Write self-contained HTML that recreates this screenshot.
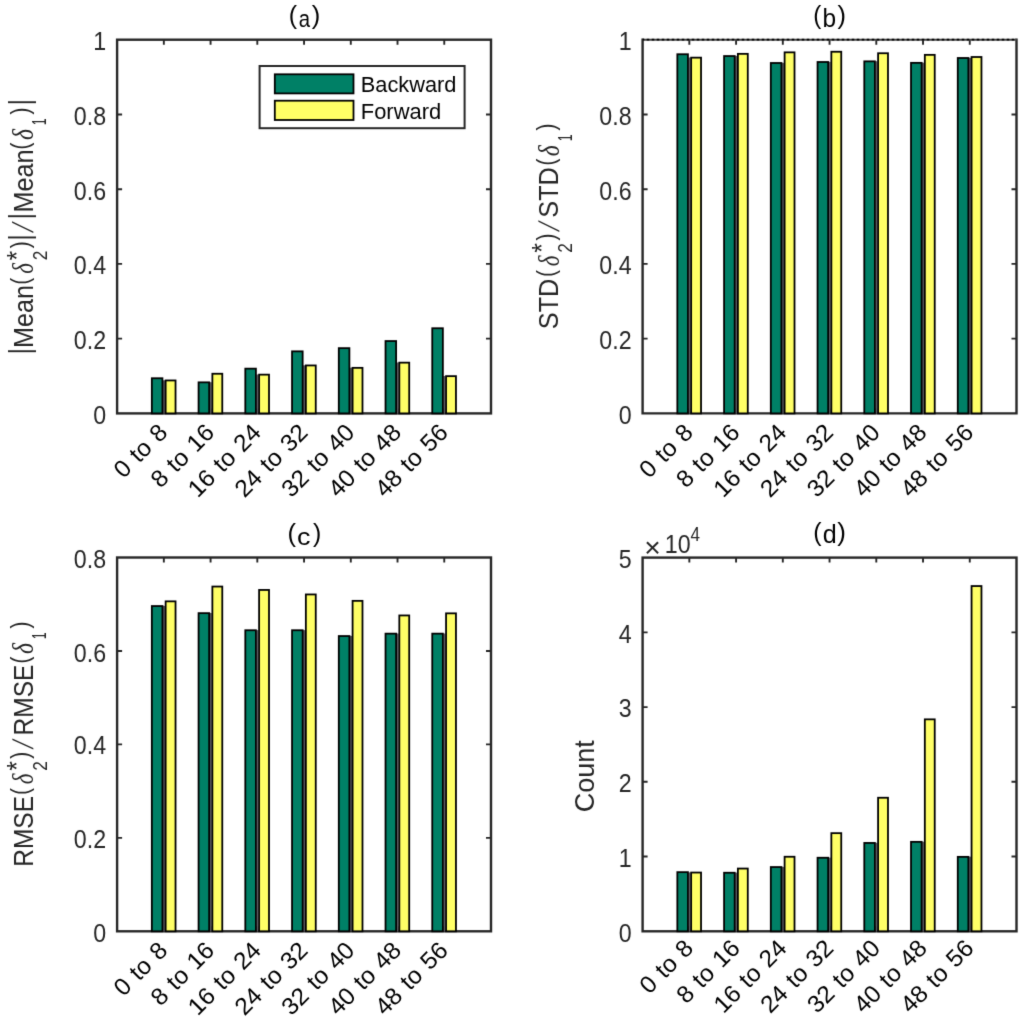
<!DOCTYPE html>
<html lang="en"><head><meta charset="utf-8"><title>Backward / Forward comparison</title>
<style>
html,body{margin:0;padding:0;background:#fff;}
body{width:1024px;height:1023px;overflow:hidden;}
svg{display:block;}
text{font-family:"Liberation Sans",sans-serif;font-kerning:none;}
.tk{font-size:26.5px;fill:#262626;}
.xt{font-size:24px;fill:#000;word-spacing:1.5px;}
.g{fill:#262626;}
.k{fill:#000;}
.it{font-style:italic;font-family:"Liberation Serif",serif;}
</style></head><body>
<svg width="1024" height="1023" viewBox="0 0 1024 1023">
<rect x="0" y="0" width="1024" height="1023" fill="#fff"/>
<defs><filter id="soft" x="0" y="0" width="1024" height="1023" filterUnits="userSpaceOnUse" color-interpolation-filters="sRGB"><feConvolveMatrix order="3" kernelMatrix="0.01832 0.13534 0.01832 0.13534 1.00000 0.13534 0.01832 0.13534 0.01832" divisor="1.61460" edgeMode="duplicate" preserveAlpha="true"/></filter></defs>
<g filter="url(#soft)">
<rect x="0" y="0" width="1024" height="1023" fill="#fff"/>
<g id="panel-a">
<path d="M163.84 413.4V408.4M163.84 39.7V44.7M210.57 413.4V408.4M210.57 39.7V44.7M257.31 413.4V408.4M257.31 39.7V44.7M304.05 413.4V408.4M304.05 39.7V44.7M350.79 413.4V408.4M350.79 39.7V44.7M397.52 413.4V408.4M397.52 39.7V44.7M444.26 413.4V408.4M444.26 39.7V44.7M117.1 338.66H122.1M491 338.66H486M117.1 263.92H122.1M491 263.92H486M117.1 189.18H122.1M491 189.18H486M117.1 114.44H122.1M491 114.44H486" stroke="#262626" stroke-width="1.9" fill="none"/>
<rect x="117.1" y="39.7" width="373.9" height="373.7" fill="none" stroke="#262626" stroke-width="2.4"/>
<rect x="162.84" y="380.3" width="2.2" height="33.1" fill="#5c5c62"/>
<rect x="151.84" y="378.25" width="10.6" height="35.15" fill="rgb(0,128,102)" stroke="#000" stroke-width="1.8"/>
<rect x="165.64" y="380.45" width="9.9" height="32.95" fill="rgb(255,255,102)" stroke="#000" stroke-width="1.8"/>
<rect x="209.57" y="382.2" width="2.2" height="31.2" fill="#5c5c62"/>
<rect x="198.57" y="382.35" width="10.6" height="31.05" fill="rgb(0,128,102)" stroke="#000" stroke-width="1.8"/>
<rect x="212.38" y="373.75" width="9.9" height="39.65" fill="rgb(255,255,102)" stroke="#000" stroke-width="1.8"/>
<rect x="256.31" y="374.5" width="2.2" height="38.9" fill="#5c5c62"/>
<rect x="245.31" y="368.65" width="10.6" height="44.75" fill="rgb(0,128,102)" stroke="#000" stroke-width="1.8"/>
<rect x="259.11" y="374.65" width="9.9" height="38.75" fill="rgb(255,255,102)" stroke="#000" stroke-width="1.8"/>
<rect x="303.05" y="365.3" width="2.2" height="48.1" fill="#5c5c62"/>
<rect x="292.05" y="351.35" width="10.6" height="62.05" fill="rgb(0,128,102)" stroke="#000" stroke-width="1.8"/>
<rect x="305.85" y="365.45" width="9.9" height="47.95" fill="rgb(255,255,102)" stroke="#000" stroke-width="1.8"/>
<rect x="349.79" y="367.7" width="2.2" height="45.7" fill="#5c5c62"/>
<rect x="338.79" y="348.15" width="10.6" height="65.25" fill="rgb(0,128,102)" stroke="#000" stroke-width="1.8"/>
<rect x="352.59" y="367.85" width="9.9" height="45.55" fill="rgb(255,255,102)" stroke="#000" stroke-width="1.8"/>
<rect x="396.52" y="362.5" width="2.2" height="50.9" fill="#5c5c62"/>
<rect x="385.52" y="341.05" width="10.6" height="72.35" fill="rgb(0,128,102)" stroke="#000" stroke-width="1.8"/>
<rect x="399.32" y="362.65" width="9.9" height="50.75" fill="rgb(255,255,102)" stroke="#000" stroke-width="1.8"/>
<rect x="443.26" y="376" width="2.2" height="37.4" fill="#5c5c62"/>
<rect x="432.26" y="328.25" width="10.6" height="85.15" fill="rgb(0,128,102)" stroke="#000" stroke-width="1.8"/>
<rect x="446.06" y="376.15" width="9.9" height="37.25" fill="rgb(255,255,102)" stroke="#000" stroke-width="1.8"/>
<text class="tk" transform="translate(106.1 423.9) scale(0.876 1)" text-anchor="end">0</text>
<text class="tk" transform="translate(106.1 348.91) scale(0.876 1)" text-anchor="end">0.2</text>
<text class="tk" transform="translate(106.1 273.77) scale(0.876 1)" text-anchor="end">0.4</text>
<text class="tk" transform="translate(106.1 200.03) scale(0.876 1)" text-anchor="end">0.6</text>
<text class="tk" transform="translate(106.1 124.89) scale(0.876 1)" text-anchor="end">0.8</text>
<text class="tk" transform="translate(106.1 49.8) scale(0.876 1)" text-anchor="end">1</text>
<text class="xt" transform="translate(168.94 433.9) rotate(-45) scale(1.02 1)" text-anchor="end">0 to 8</text>
<text class="xt" transform="translate(215.67 433.9) rotate(-45) scale(1.02 1)" text-anchor="end">8 to 16</text>
<text class="xt" transform="translate(262.41 433.9) rotate(-45) scale(1.02 1)" text-anchor="end">16 to 24</text>
<text class="xt" transform="translate(309.15 433.9) rotate(-45) scale(1.02 1)" text-anchor="end">24 to 32</text>
<text class="xt" transform="translate(355.89 433.9) rotate(-45) scale(1.02 1)" text-anchor="end">32 to 40</text>
<text class="xt" transform="translate(402.62 433.9) rotate(-45) scale(1.02 1)" text-anchor="end">40 to 48</text>
<text class="xt" transform="translate(449.36 433.9) rotate(-45) scale(1.02 1)" text-anchor="end">48 to 56</text>
</g>
<g id="panel-b">
<path d="M689.34 413.4V408.4M689.34 39.7V44.7M736.08 413.4V408.4M736.08 39.7V44.7M782.81 413.4V408.4M782.81 39.7V44.7M829.55 413.4V408.4M829.55 39.7V44.7M876.29 413.4V408.4M876.29 39.7V44.7M923.02 413.4V408.4M923.02 39.7V44.7M969.76 413.4V408.4M969.76 39.7V44.7M642.6 338.66H647.6M1016.5 338.66H1011.5M642.6 263.92H647.6M1016.5 263.92H1011.5M642.6 189.18H647.6M1016.5 189.18H1011.5M642.6 114.44H647.6M1016.5 114.44H1011.5" stroke="#262626" stroke-width="1.9" fill="none"/>
<path d="M642.6 39.7V413.4H1016.5V39.7" fill="none" stroke="#262626" stroke-width="2.4" stroke-linecap="square"/>
<path d="M642.6 39.7H1016.5" fill="none" stroke="#484848" stroke-width="1.9"/>
<path d="M642.6 39.6H1016.5" stroke="#000" stroke-width="1.7" stroke-dasharray="2.6 2.4" stroke-dashoffset="0.9" fill="none"/>
<rect x="688.34" y="57.5" width="2.2" height="355.9" fill="#5c5c62"/>
<rect x="677.34" y="54.25" width="10.6" height="359.15" fill="rgb(0,128,102)" stroke="#000" stroke-width="1.8"/>
<rect x="691.14" y="57.65" width="9.9" height="355.75" fill="rgb(255,255,102)" stroke="#000" stroke-width="1.8"/>
<rect x="735.08" y="55.9" width="2.2" height="357.5" fill="#5c5c62"/>
<rect x="724.08" y="56.05" width="10.6" height="357.35" fill="rgb(0,128,102)" stroke="#000" stroke-width="1.8"/>
<rect x="737.88" y="53.85" width="9.9" height="359.55" fill="rgb(255,255,102)" stroke="#000" stroke-width="1.8"/>
<rect x="781.81" y="62.85" width="2.2" height="350.55" fill="#5c5c62"/>
<rect x="770.81" y="63" width="10.6" height="350.4" fill="rgb(0,128,102)" stroke="#000" stroke-width="1.8"/>
<rect x="784.61" y="52.35" width="9.9" height="361.05" fill="rgb(255,255,102)" stroke="#000" stroke-width="1.8"/>
<rect x="828.55" y="61.85" width="2.2" height="351.55" fill="#5c5c62"/>
<rect x="817.55" y="62" width="10.6" height="351.4" fill="rgb(0,128,102)" stroke="#000" stroke-width="1.8"/>
<rect x="831.35" y="51.75" width="9.9" height="361.65" fill="rgb(255,255,102)" stroke="#000" stroke-width="1.8"/>
<rect x="875.29" y="61.2" width="2.2" height="352.2" fill="#5c5c62"/>
<rect x="864.29" y="61.35" width="10.6" height="352.05" fill="rgb(0,128,102)" stroke="#000" stroke-width="1.8"/>
<rect x="878.09" y="53.25" width="9.9" height="360.15" fill="rgb(255,255,102)" stroke="#000" stroke-width="1.8"/>
<rect x="922.02" y="62.7" width="2.2" height="350.7" fill="#5c5c62"/>
<rect x="911.02" y="62.85" width="10.6" height="350.55" fill="rgb(0,128,102)" stroke="#000" stroke-width="1.8"/>
<rect x="924.82" y="54.85" width="9.9" height="358.55" fill="rgb(255,255,102)" stroke="#000" stroke-width="1.8"/>
<rect x="968.76" y="57.85" width="2.2" height="355.55" fill="#5c5c62"/>
<rect x="957.76" y="58" width="10.6" height="355.4" fill="rgb(0,128,102)" stroke="#000" stroke-width="1.8"/>
<rect x="971.56" y="57" width="9.9" height="356.4" fill="rgb(255,255,102)" stroke="#000" stroke-width="1.8"/>
<text class="tk" transform="translate(631.6 423.9) scale(0.876 1)" text-anchor="end">0</text>
<text class="tk" transform="translate(631.6 348.91) scale(0.876 1)" text-anchor="end">0.2</text>
<text class="tk" transform="translate(631.6 273.77) scale(0.876 1)" text-anchor="end">0.4</text>
<text class="tk" transform="translate(631.6 200.03) scale(0.876 1)" text-anchor="end">0.6</text>
<text class="tk" transform="translate(631.6 124.89) scale(0.876 1)" text-anchor="end">0.8</text>
<text class="tk" transform="translate(631.6 49.8) scale(0.876 1)" text-anchor="end">1</text>
<text class="xt" transform="translate(694.44 433.9) rotate(-45) scale(1.02 1)" text-anchor="end">0 to 8</text>
<text class="xt" transform="translate(741.18 433.9) rotate(-45) scale(1.02 1)" text-anchor="end">8 to 16</text>
<text class="xt" transform="translate(787.91 433.9) rotate(-45) scale(1.02 1)" text-anchor="end">16 to 24</text>
<text class="xt" transform="translate(834.65 433.9) rotate(-45) scale(1.02 1)" text-anchor="end">24 to 32</text>
<text class="xt" transform="translate(881.39 433.9) rotate(-45) scale(1.02 1)" text-anchor="end">32 to 40</text>
<text class="xt" transform="translate(928.12 433.9) rotate(-45) scale(1.02 1)" text-anchor="end">40 to 48</text>
<text class="xt" transform="translate(974.86 433.9) rotate(-45) scale(1.02 1)" text-anchor="end">48 to 56</text>
</g>
<g id="panel-c">
<path d="M163.84 931.3V926.3M163.84 557.5V562.5M210.57 931.3V926.3M210.57 557.5V562.5M257.31 931.3V926.3M257.31 557.5V562.5M304.05 931.3V926.3M304.05 557.5V562.5M350.79 931.3V926.3M350.79 557.5V562.5M397.52 931.3V926.3M397.52 557.5V562.5M444.26 931.3V926.3M444.26 557.5V562.5M117.1 837.85H122.1M491 837.85H486M117.1 744.4H122.1M491 744.4H486M117.1 650.95H122.1M491 650.95H486" stroke="#262626" stroke-width="1.9" fill="none"/>
<rect x="117.1" y="557.5" width="373.9" height="373.8" fill="none" stroke="#262626" stroke-width="2.4"/>
<rect x="162.84" y="605.9" width="2.2" height="325.4" fill="#5c5c62"/>
<rect x="151.84" y="606.05" width="10.6" height="325.25" fill="rgb(0,128,102)" stroke="#000" stroke-width="1.8"/>
<rect x="165.64" y="601.35" width="9.9" height="329.95" fill="rgb(255,255,102)" stroke="#000" stroke-width="1.8"/>
<rect x="209.57" y="613" width="2.2" height="318.3" fill="#5c5c62"/>
<rect x="198.57" y="613.15" width="10.6" height="318.15" fill="rgb(0,128,102)" stroke="#000" stroke-width="1.8"/>
<rect x="212.38" y="586.55" width="9.9" height="344.75" fill="rgb(255,255,102)" stroke="#000" stroke-width="1.8"/>
<rect x="256.31" y="630.1" width="2.2" height="301.2" fill="#5c5c62"/>
<rect x="245.31" y="630.25" width="10.6" height="301.05" fill="rgb(0,128,102)" stroke="#000" stroke-width="1.8"/>
<rect x="259.11" y="589.95" width="9.9" height="341.35" fill="rgb(255,255,102)" stroke="#000" stroke-width="1.8"/>
<rect x="303.05" y="630.1" width="2.2" height="301.2" fill="#5c5c62"/>
<rect x="292.05" y="630.25" width="10.6" height="301.05" fill="rgb(0,128,102)" stroke="#000" stroke-width="1.8"/>
<rect x="305.85" y="594.45" width="9.9" height="336.85" fill="rgb(255,255,102)" stroke="#000" stroke-width="1.8"/>
<rect x="349.79" y="635.9" width="2.2" height="295.4" fill="#5c5c62"/>
<rect x="338.79" y="636.05" width="10.6" height="295.25" fill="rgb(0,128,102)" stroke="#000" stroke-width="1.8"/>
<rect x="352.59" y="600.85" width="9.9" height="330.45" fill="rgb(255,255,102)" stroke="#000" stroke-width="1.8"/>
<rect x="396.52" y="633.5" width="2.2" height="297.8" fill="#5c5c62"/>
<rect x="385.52" y="633.65" width="10.6" height="297.65" fill="rgb(0,128,102)" stroke="#000" stroke-width="1.8"/>
<rect x="399.32" y="615.45" width="9.9" height="315.85" fill="rgb(255,255,102)" stroke="#000" stroke-width="1.8"/>
<rect x="443.26" y="633.5" width="2.2" height="297.8" fill="#5c5c62"/>
<rect x="432.26" y="633.65" width="10.6" height="297.65" fill="rgb(0,128,102)" stroke="#000" stroke-width="1.8"/>
<rect x="446.06" y="613.35" width="9.9" height="317.95" fill="rgb(255,255,102)" stroke="#000" stroke-width="1.8"/>
<text class="tk" transform="translate(106.1 941.65) scale(0.876 1)" text-anchor="end">0</text>
<text class="tk" transform="translate(106.1 848.2) scale(0.876 1)" text-anchor="end">0.2</text>
<text class="tk" transform="translate(106.1 754.15) scale(0.876 1)" text-anchor="end">0.4</text>
<text class="tk" transform="translate(106.1 661.9) scale(0.876 1)" text-anchor="end">0.6</text>
<text class="tk" transform="translate(106.1 567.9) scale(0.876 1)" text-anchor="end">0.8</text>
<text class="xt" transform="translate(168.94 951.8) rotate(-45) scale(1.02 1)" text-anchor="end">0 to 8</text>
<text class="xt" transform="translate(215.67 951.8) rotate(-45) scale(1.02 1)" text-anchor="end">8 to 16</text>
<text class="xt" transform="translate(262.41 951.8) rotate(-45) scale(1.02 1)" text-anchor="end">16 to 24</text>
<text class="xt" transform="translate(309.15 951.8) rotate(-45) scale(1.02 1)" text-anchor="end">24 to 32</text>
<text class="xt" transform="translate(355.89 951.8) rotate(-45) scale(1.02 1)" text-anchor="end">32 to 40</text>
<text class="xt" transform="translate(402.62 951.8) rotate(-45) scale(1.02 1)" text-anchor="end">40 to 48</text>
<text class="xt" transform="translate(449.36 951.8) rotate(-45) scale(1.02 1)" text-anchor="end">48 to 56</text>
</g>
<g id="panel-d">
<path d="M689.34 931.3V926.3M689.34 557.6V562.6M736.08 931.3V926.3M736.08 557.6V562.6M782.81 931.3V926.3M782.81 557.6V562.6M829.55 931.3V926.3M829.55 557.6V562.6M876.29 931.3V926.3M876.29 557.6V562.6M923.02 931.3V926.3M923.02 557.6V562.6M969.76 931.3V926.3M969.76 557.6V562.6M642.6 856.56H647.6M1016.5 856.56H1011.5M642.6 781.82H647.6M1016.5 781.82H1011.5M642.6 707.08H647.6M1016.5 707.08H1011.5M642.6 632.34H647.6M1016.5 632.34H1011.5" stroke="#262626" stroke-width="1.9" fill="none"/>
<rect x="642.6" y="557.6" width="373.9" height="373.7" fill="none" stroke="#262626" stroke-width="2.4"/>
<rect x="688.34" y="872.4" width="2.2" height="58.9" fill="#5c5c62"/>
<rect x="677.34" y="872.15" width="10.6" height="59.15" fill="rgb(0,128,102)" stroke="#000" stroke-width="1.8"/>
<rect x="691.14" y="872.55" width="9.9" height="58.75" fill="rgb(255,255,102)" stroke="#000" stroke-width="1.8"/>
<rect x="735.08" y="872.6" width="2.2" height="58.7" fill="#5c5c62"/>
<rect x="724.08" y="872.75" width="10.6" height="58.55" fill="rgb(0,128,102)" stroke="#000" stroke-width="1.8"/>
<rect x="737.88" y="868.55" width="9.9" height="62.75" fill="rgb(255,255,102)" stroke="#000" stroke-width="1.8"/>
<rect x="781.81" y="866.9" width="2.2" height="64.4" fill="#5c5c62"/>
<rect x="770.81" y="867.05" width="10.6" height="64.25" fill="rgb(0,128,102)" stroke="#000" stroke-width="1.8"/>
<rect x="784.61" y="856.75" width="9.9" height="74.55" fill="rgb(255,255,102)" stroke="#000" stroke-width="1.8"/>
<rect x="828.55" y="857.6" width="2.2" height="73.7" fill="#5c5c62"/>
<rect x="817.55" y="857.75" width="10.6" height="73.55" fill="rgb(0,128,102)" stroke="#000" stroke-width="1.8"/>
<rect x="831.35" y="833.15" width="9.9" height="98.15" fill="rgb(255,255,102)" stroke="#000" stroke-width="1.8"/>
<rect x="875.29" y="842.8" width="2.2" height="88.5" fill="#5c5c62"/>
<rect x="864.29" y="842.95" width="10.6" height="88.35" fill="rgb(0,128,102)" stroke="#000" stroke-width="1.8"/>
<rect x="878.09" y="797.75" width="9.9" height="133.55" fill="rgb(255,255,102)" stroke="#000" stroke-width="1.8"/>
<rect x="922.02" y="841.7" width="2.2" height="89.6" fill="#5c5c62"/>
<rect x="911.02" y="841.85" width="10.6" height="89.45" fill="rgb(0,128,102)" stroke="#000" stroke-width="1.8"/>
<rect x="924.82" y="719.35" width="9.9" height="211.95" fill="rgb(255,255,102)" stroke="#000" stroke-width="1.8"/>
<rect x="968.76" y="856.7" width="2.2" height="74.6" fill="#5c5c62"/>
<rect x="957.76" y="856.85" width="10.6" height="74.45" fill="rgb(0,128,102)" stroke="#000" stroke-width="1.8"/>
<rect x="971.56" y="586.05" width="9.9" height="345.25" fill="rgb(255,255,102)" stroke="#000" stroke-width="1.8"/>
<text class="tk" transform="translate(631.6 941.65) scale(0.876 1)" text-anchor="end">0</text>
<text class="tk" transform="translate(631.6 866.91) scale(0.876 1)" text-anchor="end">1</text>
<text class="tk" transform="translate(631.6 792.17) scale(0.876 1)" text-anchor="end">2</text>
<text class="tk" transform="translate(631.6 717.43) scale(0.876 1)" text-anchor="end">3</text>
<text class="tk" transform="translate(631.6 642.69) scale(0.876 1)" text-anchor="end">4</text>
<text class="tk" transform="translate(631.6 567.6) scale(0.876 1)" text-anchor="end">5</text>
<text class="xt" transform="translate(694.64 949.6) rotate(-45) scale(1.02 1)" text-anchor="end">0 to 8</text>
<text class="xt" transform="translate(741.38 949.6) rotate(-45) scale(1.02 1)" text-anchor="end">8 to 16</text>
<text class="xt" transform="translate(788.11 949.6) rotate(-45) scale(1.02 1)" text-anchor="end">16 to 24</text>
<text class="xt" transform="translate(834.85 949.6) rotate(-45) scale(1.02 1)" text-anchor="end">24 to 32</text>
<text class="xt" transform="translate(881.59 949.6) rotate(-45) scale(1.02 1)" text-anchor="end">32 to 40</text>
<text class="xt" transform="translate(928.32 949.6) rotate(-45) scale(1.02 1)" text-anchor="end">40 to 48</text>
<text class="xt" transform="translate(975.06 949.6) rotate(-45) scale(1.02 1)" text-anchor="end">48 to 56</text>
</g>
<g id="title-a"><text class="k" font-size="27" transform="translate(288.86 23.74) scale(0.922 0.9581)">(</text><text class="k" font-size="27" transform="translate(298.64 26.96) scale(0.7535 0.9127)">a</text><text class="k" font-size="27" transform="translate(311.65 23.74) scale(0.9499 0.9581)">)</text></g>
<g id="title-b"><text class="k" font-size="27" transform="translate(813.2 23.74) scale(0.894 0.9581)">(</text><text class="k" font-size="27" transform="translate(822.62 26.65) scale(0.9059 0.9633)">b</text><text class="k" font-size="27" transform="translate(837.4 23.74) scale(0.9429 0.9581)">)</text></g>
<g id="title-c"><text class="k" font-size="27" transform="translate(287.47 541.74) scale(0.9429 0.9581)">(</text><text class="k" font-size="27" transform="translate(297.06 544.96) scale(0.9965 0.9127)">c</text><text class="k" font-size="27" transform="translate(313.05 541.74) scale(0.922 0.9581)">)</text></g>
<g id="title-d"><text class="k" font-size="27" transform="translate(813.16 540.52) scale(0.922 0.9442)">(</text><text class="k" font-size="27" transform="translate(822.84 543.19) scale(0.9306 0.9708)">d</text><text class="k" font-size="27" transform="translate(837.25 540.52) scale(0.9639 0.9442)">)</text></g>
<g id="ylabel-b"><text class="g" font-size="28" transform="rotate(-90) translate(-329.15 558.23) scale(0.9009 0.9786)">STD</text><text class="g" font-size="28" transform="rotate(-90) translate(-276.74 554.88) scale(0.7139 0.9009)">(</text><text class="g it" font-size="28" transform="rotate(-90) translate(-266.17 558.82) scale(0.8198 1.0384)">δ</text><text class="g" font-size="21" transform="rotate(-90) translate(-252.8 551.31) scale(1.1724 1.3225)">*</text><text class="g" font-size="21" transform="rotate(-90) translate(-252.67 572.3) scale(0.8258 0.9821)">2</text><text class="g" font-size="28" transform="rotate(-90) translate(-240.62 554.88) scale(0.7543 0.9009)">)</text><text class="g" font-size="28" transform="rotate(-90) translate(-232.01 558.52) skewX(-17.512) scale(0.6772 1.0164)">/</text><text class="g" font-size="28" transform="rotate(-90) translate(-217.65 558.23) scale(0.9009 0.9786)">STD</text><text class="g" font-size="28" transform="rotate(-90) translate(-165.56 554.88) scale(0.7274 0.9009)">(</text><text class="g it" font-size="28" transform="rotate(-90) translate(-156.19 558.82) scale(0.8436 1.0384)">δ</text><text class="g" font-size="21" transform="rotate(-90) translate(-141.24 571.95) scale(0.5854 0.9725)">1</text><text class="g" font-size="28" transform="rotate(-90) translate(-130.62 554.88) scale(0.7543 0.9009)">)</text></g>
<g id="ylabel-c"><text class="g" font-size="28" transform="rotate(-90) translate(-866.81 32.53) scale(0.8767 0.9786)">RMSE</text><text class="g" font-size="28" transform="rotate(-90) translate(-794.79 29.18) scale(0.7139 0.9009)">(</text><text class="g it" font-size="28" transform="rotate(-90) translate(-784.22 33.12) scale(0.8198 1.0384)">δ</text><text class="g" font-size="21" transform="rotate(-90) translate(-770.85 25.61) scale(1.1724 1.3225)">*</text><text class="g" font-size="21" transform="rotate(-90) translate(-770.72 46.6) scale(0.8258 0.9821)">2</text><text class="g" font-size="28" transform="rotate(-90) translate(-758.67 29.18) scale(0.7543 0.9009)">)</text><text class="g" font-size="28" transform="rotate(-90) translate(-749.52 32.82) skewX(-15.75) scale(0.6772 1.0164)">/</text><text class="g" font-size="28" transform="rotate(-90) translate(-735.41 32.53) scale(0.876 0.9786)">RMSE</text><text class="g" font-size="28" transform="rotate(-90) translate(-663.46 29.18) scale(0.7274 0.9009)">(</text><text class="g it" font-size="28" transform="rotate(-90) translate(-654.09 33.12) scale(0.8436 1.0384)">δ</text><text class="g" font-size="21" transform="rotate(-90) translate(-639.14 46.25) scale(0.5854 0.9725)">1</text><text class="g" font-size="28" transform="rotate(-90) translate(-628.52 29.18) scale(0.7543 0.9009)">)</text></g>
<g id="ylabel-a"><text class="g" font-size="28" transform="rotate(-90) translate(-354.29 30.22) scale(0.8372 1.0754)">|</text><text class="g" font-size="28" transform="rotate(-90) translate(-348.01 32.53) scale(0.8987 0.993)">Mean</text><text class="g" font-size="28" transform="rotate(-90) translate(-284.44 29.18) scale(0.7139 0.9009)">(</text><text class="g it" font-size="28" transform="rotate(-90) translate(-273.87 33.12) scale(0.8198 1.0384)">δ</text><text class="g" font-size="21" transform="rotate(-90) translate(-260.5 25.61) scale(1.1724 1.3225)">*</text><text class="g" font-size="21" transform="rotate(-90) translate(-260.37 46.6) scale(0.8258 0.9821)">2</text><text class="g" font-size="28" transform="rotate(-90) translate(-248.32 29.18) scale(0.7543 0.9009)">)</text><text class="g" font-size="28" transform="rotate(-90) translate(-240.44 30.22) scale(0.8372 1.0754)">|</text><text class="g" font-size="28" transform="rotate(-90) translate(-233.11 33.17) skewX(-17.241) scale(0.6772 1.0334)">/</text><text class="g" font-size="28" transform="rotate(-90) translate(-219.34 30.22) scale(0.8372 1.0754)">|</text><text class="g" font-size="28" transform="rotate(-90) translate(-212.57 32.53) scale(0.901 0.993)">Mean</text><text class="g" font-size="28" transform="rotate(-90) translate(-149.46 29.18) scale(0.7274 0.9009)">(</text><text class="g it" font-size="28" transform="rotate(-90) translate(-140.09 33.12) scale(0.8436 1.0384)">δ</text><text class="g" font-size="21" transform="rotate(-90) translate(-125.14 46.25) scale(0.5854 0.9725)">1</text><text class="g" font-size="28" transform="rotate(-90) translate(-114.52 29.18) scale(0.7543 0.9009)">)</text><text class="g" font-size="28" transform="rotate(-90) translate(-105.29 30.22) scale(0.8372 1.0754)">|</text></g>
<g id="ylabel-d"><text class="g" font-size="28" transform="rotate(-90) translate(-812.22 594.43) scale(0.9653 0.9887)">Count</text></g>
<g id="exponent-d"><text class="g" font-size="26" transform="translate(644.24 556.58) scale(1.0871 1.0773)">×</text><text class="g" font-size="26.4" transform="translate(664.78 553.25) scale(0.8795 0.9523)">10</text><text class="g" font-size="21" transform="translate(690.41 540.7) scale(0.8127 0.9552)">4</text></g>
<g id="legend">
<rect x="259.6" y="66" width="205" height="62.2" fill="#fff" stroke="#262626" stroke-width="2"/>
<rect x="274.8" y="74.3" width="78.7" height="19.1" fill="rgb(0,128,102)" stroke="#000" stroke-width="1.8"/>
<rect x="274.8" y="100.7" width="78.7" height="19.3" fill="rgb(255,255,102)" stroke="#000" stroke-width="1.8"/>
<text class="k" font-size="23" transform="translate(360.81 91.69) scale(0.9476 0.9295)">Backward</text>
<text class="k" font-size="23" transform="translate(360.8 118.94) scale(0.9533 0.9325)">Forward</text>
</g>
</g>
</svg></body></html>
